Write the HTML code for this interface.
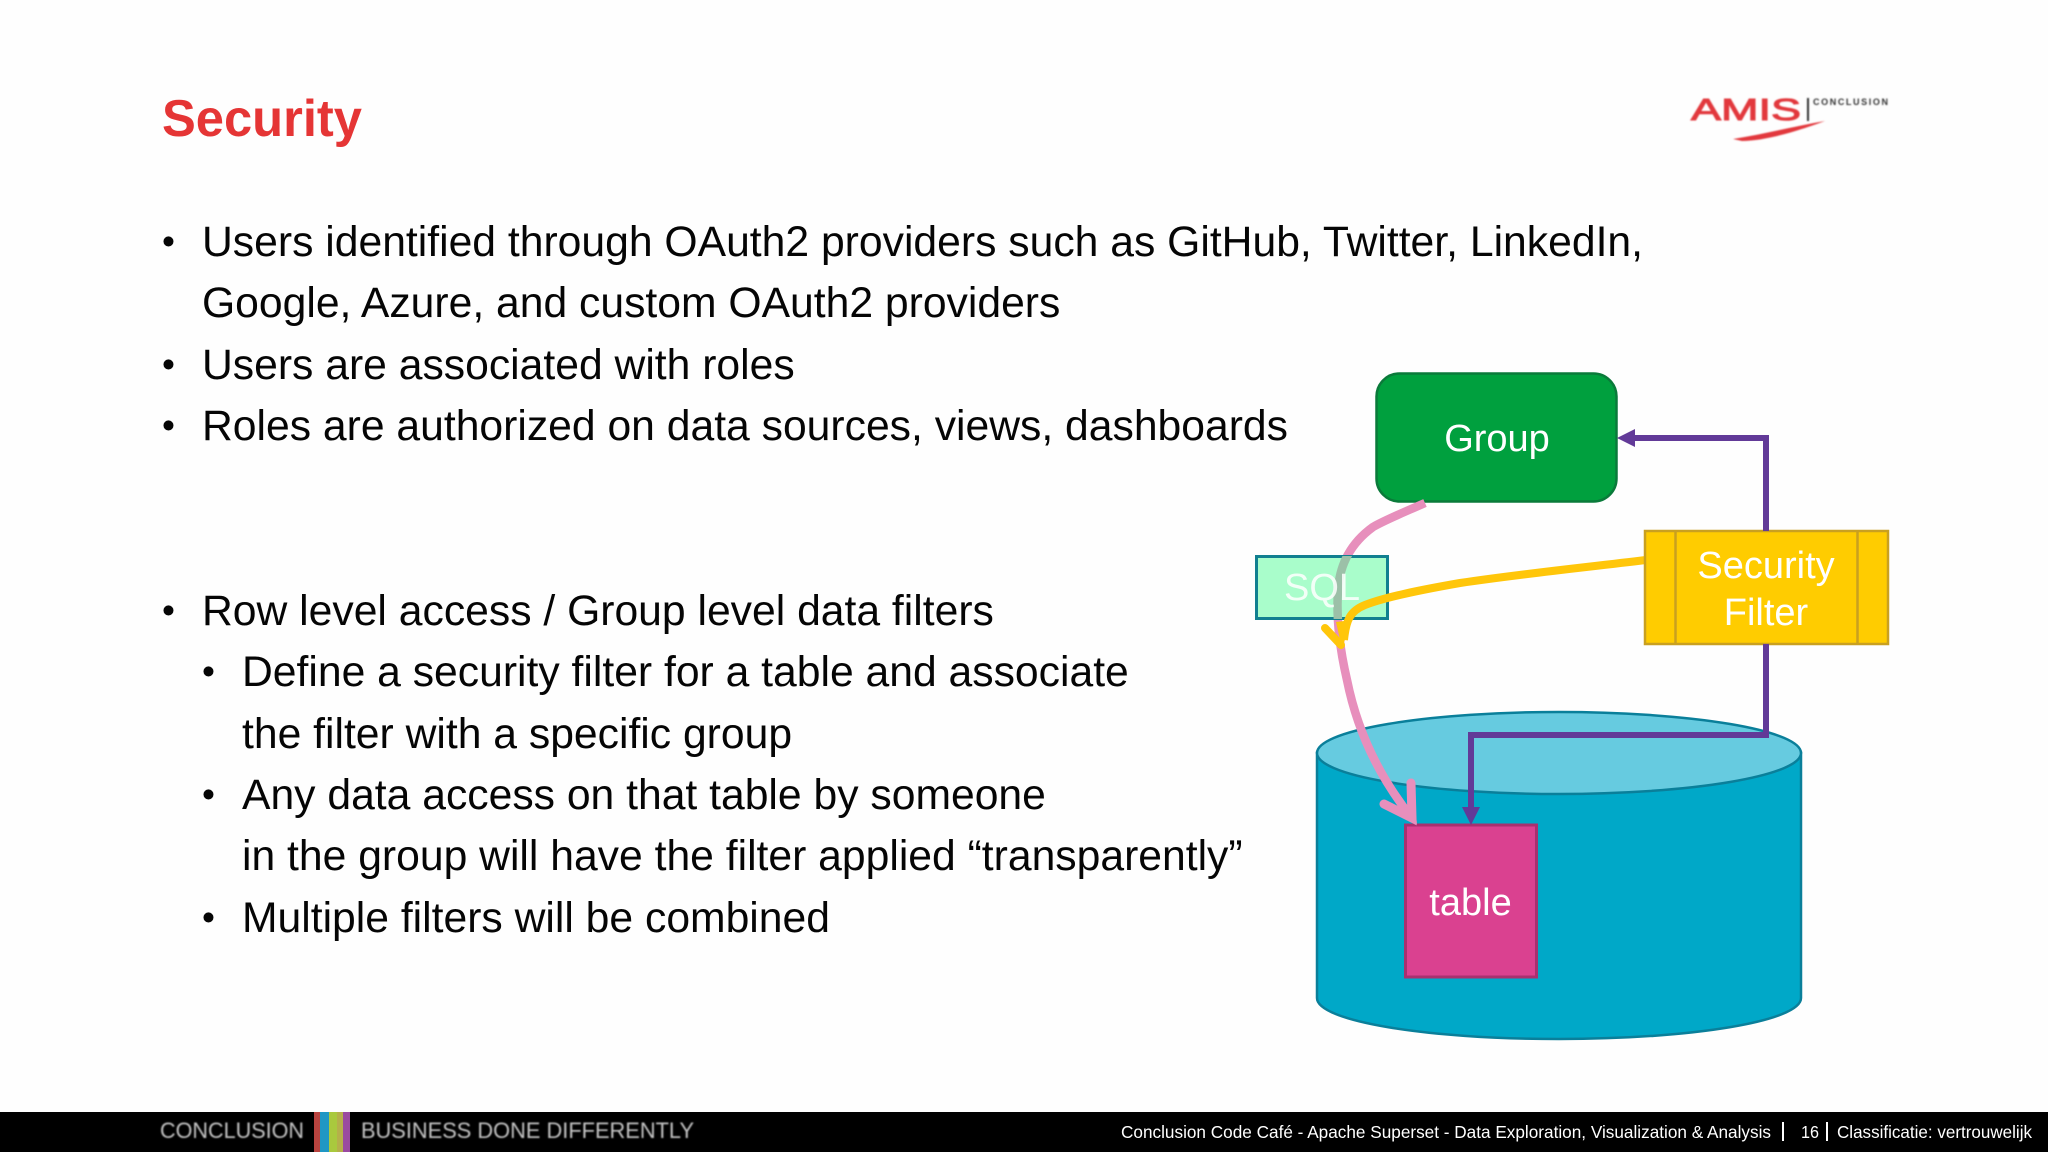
<!DOCTYPE html>
<html lang="en">
<head>
<meta charset="utf-8">
<title>Security</title>
<style>
html,body{margin:0;padding:0;background:#fff;width:2048px;height:1152px;overflow:hidden}
svg{display:block}
text{font-family:"Liberation Sans",Arial,sans-serif}
</style>
</head>
<body>
<svg xmlns="http://www.w3.org/2000/svg" width="2048" height="1152" viewBox="0 0 2048 1152">
<defs>
<clipPath id="sqlclip"><rect x="1256" y="556" width="132" height="63"/></clipPath>
<filter id="soft" x="-5%" y="-20%" width="110%" height="140%"><feGaussianBlur stdDeviation="0.7"/></filter>
</defs>
<rect width="2048" height="1152" fill="#fefefe"/>

<text x="162" y="136" font-size="52" font-weight="700" fill="#e53535" textLength="200" lengthAdjust="spacingAndGlyphs">Security</text>

<!-- logo -->
<g filter="url(#soft)">
<text x="1691" y="120" font-size="31" font-weight="400" fill="#e2393c" stroke="#e2393c" stroke-width="1" textLength="110" lengthAdjust="spacingAndGlyphs">AMIS</text>
<rect x="1807" y="98" width="2" height="23" fill="#333"/>
<text x="1813" y="105" font-size="9" font-weight="700" fill="#333" textLength="75" lengthAdjust="spacing">CONCLUSION</text>
<path d="M1733 139 C1765 134 1795 126 1825 121 C1798 131 1765 141 1742 141 Z" fill="#e2393c"/>
</g>

<!-- body text -->
<g font-size="42.67" fill="#050505">
<text x="202" y="256" textLength="1441" lengthAdjust="spacingAndGlyphs">Users identified through OAuth2 providers such as GitHub, Twitter, LinkedIn,</text>
<text x="202" y="317">Google, Azure, and custom OAuth2 providers</text>
<text x="202" y="379">Users are associated with roles</text>
<text x="202" y="440">Roles are authorized on data sources, views, dashboards</text>
<text x="202" y="625">Row level access / Group level data filters</text>
<text x="242" y="686">Define a security filter for a table and associate</text>
<text x="242" y="748">the filter with a specific group</text>
<text x="242" y="809">Any data access on that table by someone</text>
<text x="242" y="870">in the group will have the filter applied “transparently”</text>
<text x="242" y="932">Multiple filters will be combined</text>
</g>
<g font-size="37" fill="#050505">
<text x="162" y="254">•</text>
<text x="162" y="377">•</text>
<text x="162" y="438">•</text>
<text x="162" y="623">•</text>
<text x="202" y="684">•</text>
<text x="202" y="807">•</text>
<text x="202" y="930">•</text>
</g>

<!-- cylinder -->
<path d="M1317 753 V998 C1317 1021 1425 1039 1559 1039 C1693 1039 1801 1021 1801 998 V753 Z" fill="#00a8c8" stroke="#0a7f9a" stroke-width="2.5"/>
<ellipse cx="1559" cy="753" rx="242" ry="41" fill="#66cbe0" stroke="#0a7f9a" stroke-width="2.5"/>

<!-- table -->
<rect x="1405.5" y="825" width="131" height="152" fill="#da4190" stroke="#a8306f" stroke-width="3"/>
<text x="1470.5" y="915" font-size="38" fill="#fff" text-anchor="middle">table</text>

<!-- group -->
<rect x="1376.5" y="373.5" width="240" height="128" rx="23" fill="#00a03e" stroke="#0a7a3a" stroke-width="2.5"/>
<text x="1497" y="451" font-size="38" fill="#fff" text-anchor="middle">Group</text>

<!-- pink arrow -->
<path d="M1425 503 C1400 514 1385 520 1373 527 C1355 540 1340 560 1338 590 C1336 620 1340 650 1347 680 C1355 720 1372 768 1412 818" fill="none" stroke="#e78fbc" stroke-width="8.5"/>
<path d="M1384 804 L1412 818 L1411 783" fill="none" stroke="#e78fbc" stroke-width="9" stroke-linecap="round"/>
<path d="M1401 812 L1417 824 L1414 798 Z" fill="#e78fbc"/>

<!-- sql -->
<rect x="1256.5" y="556.5" width="131" height="62" fill="#a9fdcb" stroke="#117f90" stroke-width="3"/>
<path clip-path="url(#sqlclip)" d="M1425 503 C1400 514 1385 520 1373 527 C1355 540 1340 560 1338 590 C1336 620 1340 650 1347 680" fill="none" stroke="#9cc0a8" stroke-width="8.5"/>
<text x="1322" y="600" font-size="38" fill="#fff" fill-opacity=".85" text-anchor="middle">SQL</text>

<!-- yellow arrow -->
<path d="M1646 560 C1580 568 1520 574 1460 583 C1420 590 1385 597 1365 605 C1350 611 1346 620 1344 640" fill="none" stroke="#ffc60a" stroke-width="8"/>
<path d="M1325 628 L1341 645" fill="none" stroke="#ffc60a" stroke-width="8" stroke-linecap="round"/>
<path d="M1342 648 L1352 620 L1336 622 Z" fill="#ffc60a"/>

<!-- security filter -->
<rect x="1645" y="531" width="243" height="113" fill="#ffcc00" stroke="#c9a020" stroke-width="2.5"/>
<path d="M1675.5 531 V644 M1857.5 531 V644" stroke="#c9a020" stroke-width="2.5" fill="none"/>
<text x="1766" y="578" font-size="38" fill="#fff" text-anchor="middle">Security</text>
<text x="1766" y="625" font-size="38" fill="#fff" text-anchor="middle">Filter</text>

<!-- purple connectors -->
<path d="M1766 531 V438 H1630" fill="none" stroke="#623a98" stroke-width="6"/>
<path d="M1617 438 L1635 429 V447 Z" fill="#623a98"/>
<path d="M1766 644 V735 H1471 V811" fill="none" stroke="#623a98" stroke-width="6"/>
<path d="M1471 825 L1462 807 H1480 Z" fill="#623a98"/>

<!-- footer -->
<rect x="0" y="1112" width="2048" height="40" fill="#000"/>
<g filter="url(#soft)" fill="#c4c4c4" font-size="22">
<text x="160" y="1138" textLength="144" lengthAdjust="spacingAndGlyphs">CONCLUSION</text>
<text x="361" y="1138" textLength="333" lengthAdjust="spacingAndGlyphs">BUSINESS DONE DIFFERENTLY</text>
</g>
<rect x="314" y="1112" width="6" height="40" fill="#b8433f"/>
<rect x="320" y="1112" width="9" height="40" fill="#1f97c4"/>
<rect x="329" y="1112" width="8" height="40" fill="#a9c93d"/>
<rect x="337" y="1112" width="6" height="40" fill="#b5b04a"/>
<rect x="343" y="1112" width="7" height="40" fill="#9a4aa0"/>
<g fill="#fff" font-size="17.5">
<text x="1121" y="1138" textLength="650" lengthAdjust="spacingAndGlyphs">Conclusion Code Café - Apache Superset - Data Exploration, Visualization &amp; Analysis</text>
<text x="1801" y="1138" textLength="18" lengthAdjust="spacingAndGlyphs">16</text>
<text x="1837" y="1138" textLength="195" lengthAdjust="spacingAndGlyphs">Classificatie: vertrouwelijk</text>
</g>
<rect x="1782" y="1122" width="2" height="19" fill="#fff"/>
<rect x="1826" y="1122" width="2" height="19" fill="#fff"/>
</svg>
</body>
</html>
